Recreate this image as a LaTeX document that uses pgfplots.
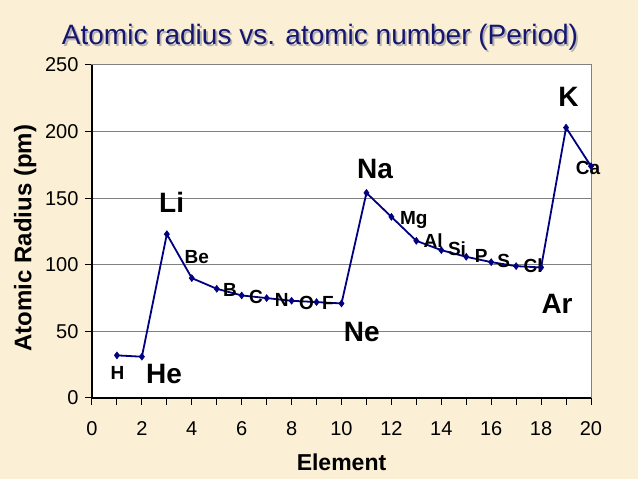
\documentclass[border=0pt]{standalone}
\usepackage{pgfplots}
\pgfplotsset{compat=1.18}
\usepackage{fontspec}
\setmainfont{Liberation Sans}
\definecolor{bg}{RGB}{251,239,213}
\definecolor{navy}{RGB}{0,0,128}
\definecolor{titleblue}{RGB}{22,22,112}

\pgfplotstableread{
z r
1 32
2 31
3 123
4 90
5 82
6 77
7 75
8 73
9 72
10 71
11 154
12 136
13 118
14 111
15 106
16 102
17 99
18 98
19 203
20 174
}\radii

\newcommand{\lbig}{\bfseries\fontsize{28}{28}\selectfont}
\newcommand{\lsml}{\bfseries\fontsize{19}{19}\selectfont}

\begin{document}
\begin{tikzpicture}[x=1pt,y=1pt]
\fill[bg] (-92,-81) rectangle (546,398);
\begin{axis}[
  at={(0,0)}, anchor=south west,
  scale only axis, width=499pt, height=333pt,
  xmin=0, xmax=20, ymin=0, ymax=250,
  clip=false,
  axis background/.style={fill=white},
  xtick={0,2,...,20}, minor xtick={1,3,...,19},
  ytick={0,50,...,250},
  xtick pos=left, ytick pos=left,
  tick align=outside,
  major tick length=7pt, minor tick length=7pt,
  tick style={black, line width=1pt},
  ymajorgrids,
  grid style={gray, line width=1pt},
  axis line style={gray, line width=1pt},
  /pgf/number format/assume math mode=true,
  ticklabel style={font=\fontsize{20}{20}\selectfont},
  xticklabel style={yshift=-13pt},
  yticklabel style={xshift=-3pt},
  xlabel={Element},
  ylabel={Atomic Radius (pm)},
  xlabel style={font=\bfseries\fontsize{23}{23}\selectfont,
    at={(axis description cs:0.5,-0.192)}, anchor=center},
  ylabel style={font=\bfseries\fontsize{24}{24}\selectfont,
    at={(axis description cs:-0.134,0.48)}, anchor=center},
]
\addplot[navy, line width=1.8pt, mark=diamond*, mark size=3.5pt,
  mark options={fill=navy, draw=navy, line width=0.5pt}] table[x=z, y=r] {\radii};

% black left and bottom axis lines
\draw[black, line width=1.1pt] (rel axis cs:0,1) -- (rel axis cs:0,0) -- (rel axis cs:1,0);

\node[font=\lsml] at (axis cs:1.02,19) {H};
\node[font=\lbig] at (axis cs:2.89,18) {He};
\node[font=\lbig] at (axis cs:3.19,147) {Li};
\node[font=\lsml] at (axis cs:4.2,106) {Be};
\node[font=\lsml] at (axis cs:5.53,81) {B};
\node[font=\lsml] at (axis cs:6.57,76) {C};
\node[font=\lsml] at (axis cs:7.6,73.6) {N};
\node[font=\lsml] at (axis cs:8.6,71) {O};
\node[font=\lsml] at (axis cs:9.46,71) {F};
\node[font=\lbig] at (axis cs:10.81,49.8) {Ne};
\node[font=\lbig] at (axis cs:11.34,172) {Na};
\node[font=\lsml] at (axis cs:12.9,134) {Mg};
\node[font=\lsml] at (axis cs:13.67,118) {Al};
\node[font=\lsml] at (axis cs:14.63,112) {Si};
\node[font=\lsml] at (axis cs:15.6,107) {P};
\node[font=\lsml] at (axis cs:16.5,103) {S};
\node[font=\lsml] at (axis cs:17.68,99) {Cl};
\node[font=\lbig] at (axis cs:18.64,71) {Ar};
\node[font=\lbig] at (axis cs:19.1,226) {K};
\node[font=\lsml] at (axis cs:19.88,173) {Ca};
\end{axis}
\node[font=\fontsize{28}{28}\selectfont, text=gray!60] at (229.8,359.2) {Atomic radius vs. atomic number (Period)};
\node[font=\fontsize{28}{28}\selectfont, text=titleblue] at (228,361) {Atomic radius vs. atomic number (Period)};
\end{tikzpicture}
\end{document}
